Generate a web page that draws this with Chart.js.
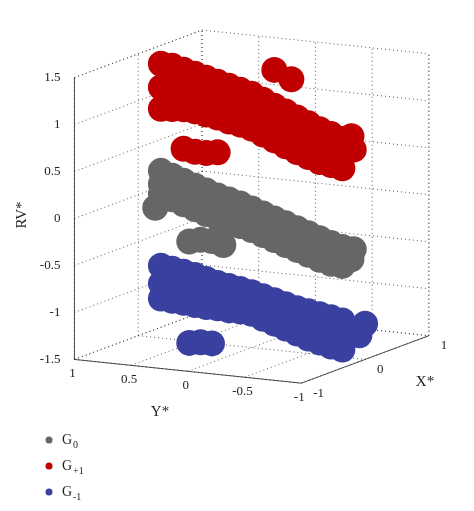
<!DOCTYPE html>
<html>
<head>
<meta charset="utf-8">
<script src="https://cdn.jsdelivr.net/npm/chart.js@4.4.1/dist/chart.umd.min.js"></script>
<style>
  html, body { margin: 0; padding: 0; background: #fff; }
  #wrap { width: 474px; height: 511px; }
</style>
</head>
<body>
<div id="wrap"><canvas id="c" width="474" height="511"></canvas></div>
<script>
// Y* sample positions along each band (X* taken as 0)
const ys = [0.8, 0.7, 0.6, 0.5, 0.4, 0.3, 0.2, 0.1, 0, -0.1, -0.2, -0.3, -0.4, -0.5, -0.6, -0.7, -0.8];

// G0 (gray) band, RV* at upper / middle / lower part
const g0Upper = [0.28, 0.24, 0.2, 0.16, 0.12, 0.08, 0.05, 0.02, -0.02, -0.06, -0.1, -0.14, -0.18, -0.22, -0.26, -0.3, -0.33];
const g0Mid = [0.14, 0.11, 0.07, 0.03, -0.01, -0.05, -0.08, -0.11, -0.14, -0.18, -0.22, -0.26, -0.3, -0.34, -0.38, -0.41, -0.43];
const g0Lower = [0.03, -0.01, -0.05, -0.09, -0.13, -0.16, -0.19, -0.22, -0.25, -0.29, -0.33, -0.37, -0.41, -0.45, -0.49, -0.52, -0.53];
const g0Extra = [[0.55, -0.44], [0.45, -0.41], [0.35, -0.41], [0.25, -0.44], [-0.9, -0.34], [-0.88, -0.45], [0.85, -0.12]];

// G+1 (red) band
const gpUpper = [1.42, 1.41, 1.38, 1.35, 1.32, 1.29, 1.26, 1.23, 1.2, 1.15, 1.1, 1.05, 1.0, 0.95, 0.9, 0.86, 0.82];
const gpMid = [1.17, 1.15, 1.13, 1.11, 1.09, 1.07, 1.04, 1.02, 0.99, 0.94, 0.89, 0.84, 0.79, 0.75, 0.71, 0.68, 0.65];
const gpLower = [0.94, 0.95, 0.96, 0.95, 0.93, 0.91, 0.88, 0.86, 0.83, 0.78, 0.73, 0.68, 0.63, 0.59, 0.55, 0.53, 0.51];
const gpExtra = [[0.6, 0.54], [0.5, 0.52], [0.4, 0.52], [0.3, 0.54], [-0.9, 0.72], [-0.88, 0.86], [-0.2, 1.48], [-0.35, 1.4]];

// G-1 (blue) band
const gmUpper = [-0.73, -0.75, -0.77, -0.79, -0.82, -0.85, -0.87, -0.89, -0.91, -0.94, -0.97, -1.0, -1.03, -1.05, -1.07, -1.09, -1.11];
const gmMid = [-0.92, -0.94, -0.96, -0.98, -1.0, -1.02, -1.04, -1.06, -1.08, -1.11, -1.14, -1.17, -1.2, -1.22, -1.25, -1.27, -1.29];
const gmLower = [-1.08, -1.09, -1.1, -1.11, -1.12, -1.12, -1.13, -1.13, -1.14, -1.18, -1.22, -1.26, -1.3, -1.34, -1.37, -1.4, -1.42];
const gmExtra = [[0.55, -1.52], [0.45, -1.5], [0.35, -1.5], [-1.0, -1.12], [-0.95, -1.25]];

const rvTicks = [1.5, 1, 0.5, 0, -0.5, -1, -1.5];
const yTicks = [1, 0.5, 0, -0.5, -1];
const xTicks = [-1, 0, 1];

// simple fixed 3D view: (Y*, X*, RV*) -> canvas units
function proj(y, x, r) {
  return { x: 252.5 - 120 * y + 67.5 * x, y: 204 - 12.5 * y - 25 * x - 99 * r };
}

function band(rows, extra) {
  const pts = [];
  rows.forEach(row => row.forEach((r, i) => pts.push(proj(ys[i], 0, r))));
  extra.forEach(p => pts.push(proj(p[0], 0, p[1])));
  return pts;
}

const boxPlugin = {
  id: 'box3d',
  beforeDatasetsDraw(chart) {
    const ctx = chart.ctx, sx = chart.scales.x, sy = chart.scales.y;
    const P = (y, x, r) => { const p = proj(y, x, r); return [sx.getPixelForValue(p.x), sy.getPixelForValue(p.y)]; };
    const line = (a, b, dash) => {
      ctx.beginPath();
      ctx.setLineDash(dash ? [1, 3] : []);
      ctx.moveTo(a[0], a[1]); ctx.lineTo(b[0], b[1]); ctx.stroke();
    };
    ctx.save();
    ctx.strokeStyle = '#333';
    ctx.lineWidth = 0.8;
    rvTicks.forEach(r => {
      line(P(1, -1, r), P(1, 1, r), true);
      line(P(1, 1, r), P(-1, 1, r), true);
    });
    yTicks.forEach(y => {
      line(P(y, 1, -1.5), P(y, 1, 1.5), true);
      line(P(y, -1, -1.5), P(y, 1, -1.5), true);
    });
    xTicks.forEach(x => {
      line(P(1, x, -1.5), P(1, x, 1.5), true);
      line(P(1, x, -1.5), P(-1, x, -1.5), true);
    });
    line(P(1, -1, 1.5), P(1, 1, 1.5), true);
    line(P(-1, 1, -1.5), P(-1, 1, 1.5), true);
    ctx.strokeStyle = '#222';
    line(P(1, -1, -1.5), P(1, -1, 1.5), false);
    line(P(1, -1, -1.5), P(-1, -1, -1.5), false);
    line(P(-1, -1, -1.5), P(-1, 1, -1.5), false);
    ctx.fillStyle = '#222';
    ctx.font = '13px "Liberation Serif"';
    ctx.textAlign = 'right'; ctx.textBaseline = 'middle';
    rvTicks.forEach(r => { const p = P(1, -1, r); ctx.fillText(String(r), p[0] - 14, p[1]); });
    ctx.textAlign = 'center'; ctx.textBaseline = 'top';
    yTicks.forEach(y => { const p = P(y, -1, -1.5); ctx.fillText(String(y), p[0] - 2, p[1] + 8); });
    ctx.textAlign = 'left'; ctx.textBaseline = 'middle';
    xTicks.forEach(x => { const p = P(-1, x, -1.5); ctx.fillText(String(x), p[0] + 12, p[1] + 10); });
    ctx.font = '15px "Liberation Serif"';
    ctx.textAlign = 'center';
    ctx.fillText('Y*', 160, 412);
    ctx.fillText('X*', 425, 382);
    ctx.translate(22, 215); ctx.rotate(-Math.PI / 2);
    ctx.fillText('RV*', 0, 0);
    ctx.restore();
  },
  afterDraw(chart) {
    const ctx = chart.ctx;
    const items = [['#666666', '0'], ['#c00000', '+1'], ['#3a40a0', '-1']];
    ctx.save();
    items.forEach((it, i) => {
      const cy = 440 + i * 26;
      ctx.fillStyle = it[0];
      ctx.beginPath(); ctx.arc(49, cy, 3.5, 0, Math.PI * 2); ctx.fill();
      ctx.fillStyle = '#222';
      ctx.textBaseline = 'middle'; ctx.textAlign = 'left';
      ctx.font = '14px "Liberation Serif"';
      ctx.fillText('G', 62, cy);
      ctx.font = '10px "Liberation Serif"';
      ctx.fillText(it[1], 73, cy + 5);
    });
    ctx.restore();
  }
};

const mk = (label, data, color) => ({
  label, data, backgroundColor: color, borderColor: color,
  pointRadius: 13, pointHoverRadius: 13, borderWidth: 0
});

new Chart(document.getElementById('c'), {
  type: 'scatter',
  data: {
    datasets: [
      mk('G+1', band([gpUpper, gpMid, gpLower], gpExtra), '#c00000'),
      mk('G0', band([g0Upper, g0Mid, g0Lower], g0Extra), '#666666'),
      mk('G-1', band([gmUpper, gmMid, gmLower], gmExtra), '#3a40a0')
    ]
  },
  options: {
    responsive: false,
    animation: false,
    layout: { padding: 0 },
    plugins: { legend: { display: false }, tooltip: { enabled: false } },
    scales: {
      x: { type: 'linear', min: 0, max: 474, display: false },
      y: { type: 'linear', min: 0, max: 511, reverse: true, display: false }
    }
  },
  plugins: [boxPlugin]
});
</script>
</body>
</html>
